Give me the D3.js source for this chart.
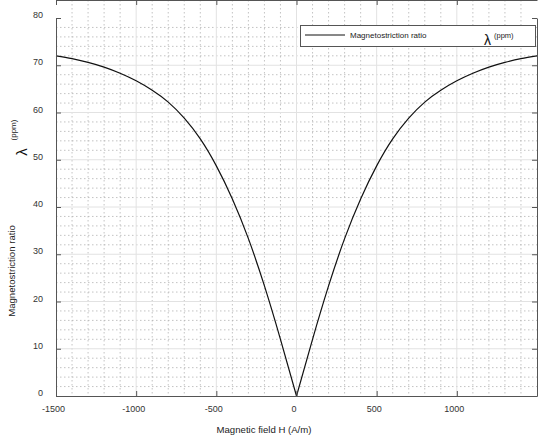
<!DOCTYPE html>
<html>
<head>
<meta charset="utf-8">
<style>
body { margin: 0; background: #fff; }
svg { display: block; font-family: "Liberation Sans", Arial, sans-serif; }
.grid-major line { stroke: #e2e2e2; stroke-width: 1; }
.grid-minor line { stroke: #b4b4b4; stroke-width: 0.8; stroke-dasharray: 1.5,2.5; }
.axis text { fill: #333; font-size: 9px; }
</style>
</head>
<body>
<svg width="550" height="444"></svg>
<script src="https://d3js.org/d3.v7.min.js"></script>
<script>
// magnetic field H (A/m) and magnetostriction lambda (ppm)
var fieldH = [-1500, -1400, -1300, -1200, -1100, -1000, -900, -800, -700, -600, -500, -400, -300, -200, -100, 0,
              100, 200, 300, 400, 500, 600, 700, 800, 900, 1000, 1100, 1200, 1300, 1400, 1500];
var lambda = [72.0, 71.4, 70.6, 69.6, 68.3, 66.7, 64.7, 62.2, 58.8, 54.4, 48.7, 41.7, 33.3, 23.3, 12.0, 0,
              12.0, 23.3, 33.3, 41.7, 48.7, 54.4, 58.8, 62.2, 64.7, 66.7, 68.3, 69.6, 70.6, 71.4, 72.0];
var xTicks = [-1500, -1000, -500, 0, 500, 1000];
var yTicks = [0, 10, 20, 30, 40, 50, 60, 70, 80];

var svg = d3.select("svg");
var x = d3.scaleLinear().domain([-1500, 1500]).range([56, 537]);
var y = d3.scaleLinear().domain([0, 80]).range([396, 18]);
var left = x.range()[0], right = x.range()[1], top = y.range()[1], bottom = y.range()[0];

var minorX = d3.range(-1500, 1501, 100).filter(function(d) { return d % 500 !== 0; });
var minorY = d3.range(0, 81, 2).filter(function(d) { return d % 10 !== 0; });
var plain = function(d) { return String(d); };

// grid
var minor = svg.append("g").attr("class", "grid-minor");
minor.selectAll("line.v").data(minorX).enter().append("line")
    .attr("x1", x).attr("x2", x).attr("y1", top).attr("y2", bottom);
minor.selectAll("line.h").data(minorY).enter().append("line")
    .attr("y1", y).attr("y2", y).attr("x1", left).attr("x2", right);
var major = svg.append("g").attr("class", "grid-major");
major.selectAll("line.v").data(xTicks.slice(1)).enter().append("line")
    .attr("x1", x).attr("x2", x).attr("y1", top).attr("y2", bottom);
major.selectAll("line.h").data(yTicks.slice(1, -1)).enter().append("line")
    .attr("y1", y).attr("y2", y).attr("x1", left).attr("x2", right);

// curve, drawn as two branches so the minimum stays sharp
var pts = fieldH.map(function(h, i) { return [h, lambda[i]]; });
var line = d3.line().x(function(d) { return x(d[0]); }).y(function(d) { return y(d[1]); })
    .curve(d3.curveNatural);
[pts.filter(function(d) { return d[0] <= 0; }), pts.filter(function(d) { return d[0] >= 0; })]
  .forEach(function(branch) {
    svg.append("path").datum(branch)
      .attr("d", line).attr("fill", "none").attr("stroke", "#111").attr("stroke-width", 1.2);
  });

// axes (inward ticks on all four sides)
function frame(g) { g.select(".domain").attr("stroke", "#555"); g.selectAll(".tick line").attr("stroke", "#555"); }
svg.append("g").attr("class", "axis").attr("transform", "translate(0," + bottom + ")")
  .call(d3.axisBottom(x).tickValues(xTicks).tickFormat(plain).tickSizeInner(-5).tickSizeOuter(0).tickPadding(10))
  .call(frame)
  .selectAll("text").attr("dx", "-3");
svg.append("g").attr("class", "axis").attr("transform", "translate(0," + top + ")")
  .call(d3.axisTop(x).tickValues(xTicks).tickSizeInner(-5).tickSizeOuter(0).tickFormat(""))
  .call(frame);
svg.append("g").attr("class", "axis").attr("transform", "translate(" + left + ",0)")
  .call(d3.axisLeft(y).tickValues(yTicks).tickFormat(plain).tickSizeInner(-5).tickSizeOuter(0).tickPadding(13))
  .call(frame)
  .selectAll("text").attr("dy", "-0.05em");
svg.append("g").attr("class", "axis").attr("transform", "translate(" + right + ",0)")
  .call(d3.axisRight(y).tickValues(yTicks).tickSizeInner(-5).tickSizeOuter(0).tickFormat(""))
  .call(frame);

// axis titles
svg.append("text").attr("x", 264).attr("y", 433).attr("text-anchor", "middle")
  .attr("font-size", 9.6).attr("fill", "#222").text("Magnetic field H (A/m)");
svg.append("text").attr("transform", "translate(15,271) rotate(-90)").attr("text-anchor", "middle")
  .attr("font-size", 9.6).attr("fill", "#222").text("Magnetostriction ratio");
svg.append("text").attr("transform", "translate(27,152) rotate(-90)").attr("text-anchor", "middle")
  .attr("font-size", 15).attr("fill", "#111").text("λ");
svg.append("text").attr("transform", "translate(16,130) rotate(-90)").attr("text-anchor", "middle")
  .attr("font-size", 8).attr("fill", "#222").text("(ppm)");

// legend
var lg = svg.append("g");
lg.append("rect").attr("x", 300.5).attr("y", 25.5).attr("width", 235).attr("height", 21)
  .attr("fill", "#fff").attr("stroke", "#555");
lg.append("line").attr("x1", 305).attr("x2", 345).attr("y1", 35).attr("y2", 35)
  .attr("stroke", "#111").attr("stroke-width", 1);
lg.append("text").attr("x", 350).attr("y", 37.5).attr("font-size", 8).attr("fill", "#222")
  .text("Magnetostriction ratio");
lg.append("text").attr("x", 484).attr("y", 45).attr("font-size", 14).attr("fill", "#111").text("λ");
lg.append("text").attr("x", 494).attr("y", 37.5).attr("font-size", 7.5).attr("fill", "#222").text("(ppm)");
</script>
</body>
</html>
